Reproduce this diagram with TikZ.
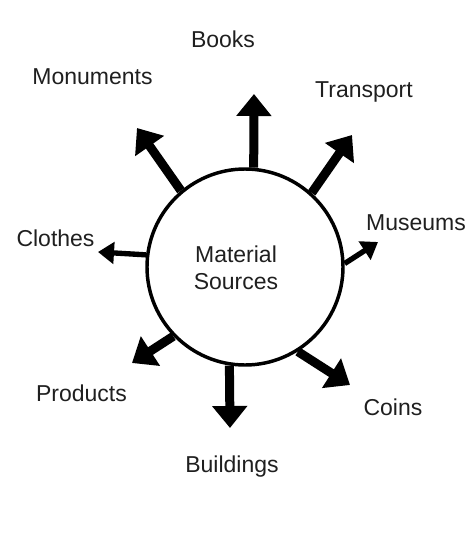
\documentclass[tikz,border=0pt]{standalone}
\usepackage{fontspec}
\setmainfont{Liberation Sans}
\usetikzlibrary{arrows.meta}
\tikzset{
  srcring/.style={circle, draw, line width=2.6pt, inner sep=0pt, minimum size=147pt},
  lbl/.style={text=black!88, font=\fontsize{17.25}{20.25}\selectfont, inner sep=0pt},
  bigarrow/.style={line width=6.75pt, -{Triangle[width=25.5pt,length=16.5pt]}},
  smallarrow/.style={line width=4pt, -{Triangle[width=16pt,length=12pt]}}
}
\begin{document}
\begin{tikzpicture}[x=0.75pt,y=-0.75pt]
      \useasboundingbox (0,0) rectangle (474,539);
      \node[srcring] (src) at (245,267) {};
      \node[lbl, align=center] (mat) at (236,268) {Material\\Sources};
      % labels
      \draw
        (223,47) node[lbl, anchor=base] (books){Books}
        (92.5,84) node[lbl, anchor=base] (monuments){Monuments}
        (364,97) node[lbl, anchor=base] (transport){Transport}
        (416,230) node[lbl, anchor=base] (museums){Museums}
        (55.5,246) node[lbl, anchor=base] (clothes){Clothes}
        (81.5,401) node[lbl, anchor=base] (products){Products}
        (393,415) node[lbl, anchor=base] (coins){Coins}
        (232,472) node[lbl, anchor=base] (buildings){Buildings};
      % arrow ends
      \coordinate (tbooks) at (254,94);
      \coordinate (tmonuments) at (137,128);
      \coordinate (ttransport) at (352,135);
      \coordinate (tmuseums) at (378,242);
      \coordinate (tclothes) at (98,252);
      \coordinate (tproducts) at (132,363);
      \coordinate (tcoins) at (350,385);
      \coordinate (tbuildings) at (230,428);
      \begin{scope}[bigarrow]
        \draw (src.85) to (tbooks);
        \draw (src.130) to (tmonuments);
        \draw (src.48) to (ttransport);
        \draw (src.224) to (tproducts);
        \draw (src.302) to (tcoins);
        \draw (src.261) to (tbuildings);
      \end{scope}
      \begin{scope}[smallarrow]
        \draw (src.2) to (tmuseums);
        \draw (src.173) to (tclothes);
      \end{scope}
    \end{tikzpicture}
\end{document}
